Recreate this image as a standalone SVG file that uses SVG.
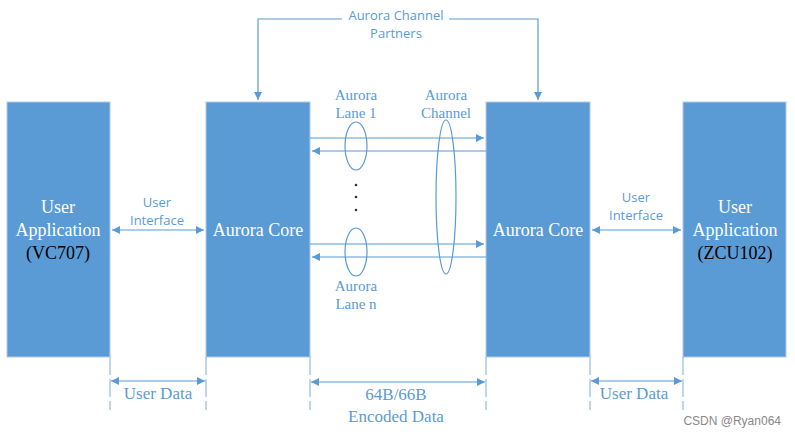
<svg xmlns="http://www.w3.org/2000/svg" width="795" height="437" viewBox="0 0 795 437">
<defs>
<marker id="a" viewBox="0 0 10 10" refX="10" refY="5" markerWidth="10" markerHeight="8" markerUnits="userSpaceOnUse" orient="auto-start-reverse"><path d="M0,0L10,5L0,10z" fill="#5b9bd5"/></marker>
<style>
.box{fill:#5b9bd5;stroke:#b4c7e7;stroke-width:1}
.bt{font-family:"Liberation Serif",serif;font-size:18px;fill:#fff;text-anchor:middle}
.lt{font-family:"Liberation Serif",serif;font-size:15px;fill:#5b9bd5;text-anchor:middle}
.ls{font-family:"Open Sans","Noto Sans",sans-serif;font-size:13px;fill:#5b9bd5;text-anchor:middle}
.ln{stroke:#5b9bd5;stroke-width:1.2;fill:none}
</style>
</defs>
<rect width="795" height="437" fill="#fff"/>
<g id="n1"><rect class="box" x="7" y="102" width="103" height="255"/><text class="bt" x="58" y="213">User</text><text class="bt" x="58" y="236">Application</text><text class="bt" x="58" y="259" style="fill:#000">(VC707)</text></g>
<g id="n2"><rect class="box" x="206" y="102" width="104" height="255"/><text class="bt" x="258" y="236">Aurora Core</text></g>
<g id="n3"><rect class="box" x="486" y="102" width="104" height="255"/><text class="bt" x="538" y="236">Aurora Core</text></g>
<g id="n4"><rect class="box" x="683" y="102" width="103" height="255"/><text class="bt" x="735" y="213">User</text><text class="bt" x="735" y="236">Application</text><text class="bt" x="735" y="259" style="fill:#000">(ZCU102)</text></g>
<g id="connectors">
<path class="ln" d="M342,19H258V100" marker-end="url(#a)"/>
<path class="ln" d="M449,19H538V100" marker-end="url(#a)"/>
<text class="ls" x="396" y="20">Aurora Channel</text><text class="ls" x="396" y="38">Partners</text>
<line class="ln" x1="112" y1="230" x2="204" y2="230" marker-start="url(#a)" marker-end="url(#a)"/>
<text class="ls" x="157" y="207">User</text><text class="ls" x="157" y="225">Interface</text>
<line class="ln" x1="592" y1="230" x2="681" y2="230" marker-start="url(#a)" marker-end="url(#a)"/>
<text class="ls" x="636" y="202">User</text><text class="ls" x="636" y="220">Interface</text>
<line class="ln" x1="310" y1="138" x2="484" y2="138" marker-end="url(#a)"/>
<line class="ln" x1="486" y1="151" x2="312" y2="151" marker-end="url(#a)"/>
<line class="ln" x1="310" y1="244" x2="484" y2="244" marker-end="url(#a)"/>
<line class="ln" x1="486" y1="257" x2="312" y2="257" marker-end="url(#a)"/>
<ellipse class="ln" cx="356" cy="146" rx="11" ry="24"/>
<ellipse class="ln" cx="356" cy="252" rx="11" ry="24"/>
<ellipse class="ln" cx="446" cy="197" rx="10" ry="77"/>
<circle cx="356" cy="185" r="1.3" fill="#333"/><circle cx="356" cy="197" r="1.3" fill="#333"/><circle cx="356" cy="210" r="1.3" fill="#333"/>
<text class="lt" x="356" y="100">Aurora</text><text class="lt" x="356" y="118">Lane 1</text>
<text class="lt" x="446" y="100">Aurora</text><text class="lt" x="446" y="118">Channel</text>
<text class="lt" x="356" y="291">Aurora</text><text class="lt" x="356" y="309">Lane n</text>
<g stroke="#5b9bd5" stroke-width="0.8" stroke-dasharray="18,4">
<line x1="110" y1="357" x2="110" y2="410"/><line x1="206" y1="357" x2="206" y2="410"/>
<line x1="310" y1="357" x2="310" y2="410"/><line x1="486" y1="357" x2="486" y2="410"/>
<line x1="590" y1="357" x2="590" y2="410"/><line x1="683" y1="357" x2="683" y2="410"/>
</g>
<line class="ln" x1="111" y1="381" x2="205" y2="381" marker-start="url(#a)" marker-end="url(#a)"/>
<line class="ln" x1="311" y1="382" x2="485" y2="382" marker-start="url(#a)" marker-end="url(#a)"/>
<line class="ln" x1="591" y1="381" x2="682" y2="381" marker-start="url(#a)" marker-end="url(#a)"/>
<text class="lt" x="158" y="399" style="font-size:17px">User Data</text>
<text class="lt" x="396" y="400" style="font-size:17px">64B/66B</text>
<text class="lt" x="396" y="422" style="font-size:17px">Encoded Data</text>
<text class="lt" x="634" y="399" style="font-size:17px">User Data</text>
</g>
<text x="781" y="425" font-family="Liberation Sans,sans-serif" font-size="12" fill="#888" text-anchor="end">CSDN @Ryan064</text>
</svg>
